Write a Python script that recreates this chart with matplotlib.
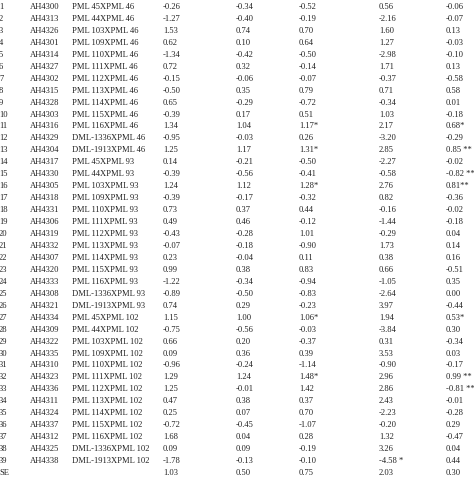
import matplotlib.pyplot as plt

codes = ['AH4300', 'AH4313', 'AH4326', 'AH4301', 'AH4314', 'AH4327', 'AH4302', 'AH4315', 'AH4328', 'AH4303',
         'AH4316', 'AH4329', 'AH4304', 'AH4317', 'AH4330', 'AH4305', 'AH4318', 'AH4331', 'AH4306', 'AH4319',
         'AH4332', 'AH4307', 'AH4320', 'AH4333', 'AH4308', 'AH4321', 'AH4334', 'AH4309', 'AH4322', 'AH4335',
         'AH4310', 'AH4323', 'AH4336', 'AH4311', 'AH4324', 'AH4337', 'AH4312', 'AH4325', 'AH4338']
females = ['PML 45', 'PML 44', 'PML 103', 'PML 109', 'PML 110', 'PML 111', 'PML 112', 'PML 113', 'PML 114',
           'PML 115', 'PML 116', 'DML-1336', 'DML-1913']
males = ['PML 46', 'PML 93', 'PML 102']
crosses = [f + 'XPML ' + m.split()[1] for m in males for f in females]

col1 = ['-0.26', '-1.27', '1.53', '0.62', '-1.34', '0.72', '-0.15', '-0.50', '0.65', '-0.39', '1.34', '-0.95', '1.25',
        '0.14', '-0.39', '1.24', '-0.39', '0.73', '0.49', '-0.43', '-0.07', '0.23', '0.99', '-1.22', '-0.89', '0.74',
        '1.15', '-0.75', '0.66', '0.09', '-0.96', '1.29', '1.25', '0.47', '0.25', '-0.72', '1.68', '0.09', '-1.78']
col2 = ['-0.34', '-0.40', '0.74', '0.10', '-0.42', '0.32', '-0.06', '0.35', '-0.29', '0.17', '1.04', '-0.03', '1.17',
        '-0.21', '-0.56', '1.12', '-0.17', '0.37', '0.46', '-0.28', '-0.18', '-0.04', '0.38', '-0.34', '-0.50', '0.29',
        '1.00', '-0.56', '0.20', '0.36', '-0.24', '1.24', '-0.01', '0.38', '0.07', '-0.45', '0.04', '0.09', '-0.13']
col3 = ['-0.52', '-0.19', '0.70', '0.64', '-0.50', '-0.14', '-0.07', '0.79', '-0.72', '0.51', '1.17*', '0.26', '1.31*',
        '-0.50', '-0.41', '1.28*', '-0.32', '0.44', '-0.12', '1.01', '-0.90', '0.11', '0.83', '-0.94', '-0.83', '-0.23',
        '1.06*', '-0.03', '-0.37', '0.39', '-1.14', '1.48*', '1.42', '0.37', '0.70', '-1.07', '0.28', '-0.19', '-0.10']
col4 = ['0.56', '-2.16', '1.60', '1.27', '-2.98', '1.71', '-0.37', '0.71', '-0.34', '1.03', '2.17', '-3.20', '2.85',
        '-2.27', '-0.58', '2.76', '0.82', '-0.16', '-1.44', '-0.29', '1.73', '0.38', '0.66', '-1.05', '-2.64', '3.97',
        '1.94', '-3.84', '0.31', '3.53', '-0.90', '2.96', '2.86', '2.43', '-2.23', '-0.20', '1.32', '3.26', '-4.58 *']
col5 = ['-0.06', '-0.07', '0.13', '-0.03', '-0.10', '0.13', '-0.58', '0.58', '0.01', '-0.18', '0.68*', '-0.29', '0.85 **',
        '-0.02', '-0.82 **', '0.81**', '-0.36', '-0.02', '-0.18', '0.04', '0.14', '0.16', '-0.51', '0.35', '0.00', '-0.44',
        '0.53*', '0.30', '-0.34', '0.03', '-0.17', '0.99 **', '-0.81 **', '-0.01', '-0.28', '0.29', '-0.47', '0.04', '0.44']
se = ['1.03', '0.50', '0.75', '2.03', '0.30']

plt.rcParams['font.family'] = 'Liberation Serif'
fig = plt.figure(figsize=(4.74, 4.79), dpi=100)
ax = fig.add_axes([0, 0, 1, 1])
ax.set_xlim(0, 474)
ax.set_ylim(479, 0)
ax.axis('off')

xs = [30, 72, 163, 236, 299, 379, 446]
fs = 6.1
step = (473 - 7) / 39
for i in range(39):
    y = 7 + i * step
    row = [codes[i], crosses[i], col1[i], col2[i], col3[i], col4[i], col5[i]]
    ax.text(-1, y, str(i + 1), fontsize=fs, va='center', color='#222222')
    for x, t in zip(xs, row):
        ax.text(x, y, t, fontsize=fs, va='center', color='#222222')
y = 7 + 39 * step
ax.text(-1, y, 'SE', fontsize=fs, va='center', color='#222222')
for x, t in zip(xs[2:], se):
    ax.text(x, y, t, fontsize=fs, va='center', color='#222222')

fig.savefig('out.png', dpi=100)
